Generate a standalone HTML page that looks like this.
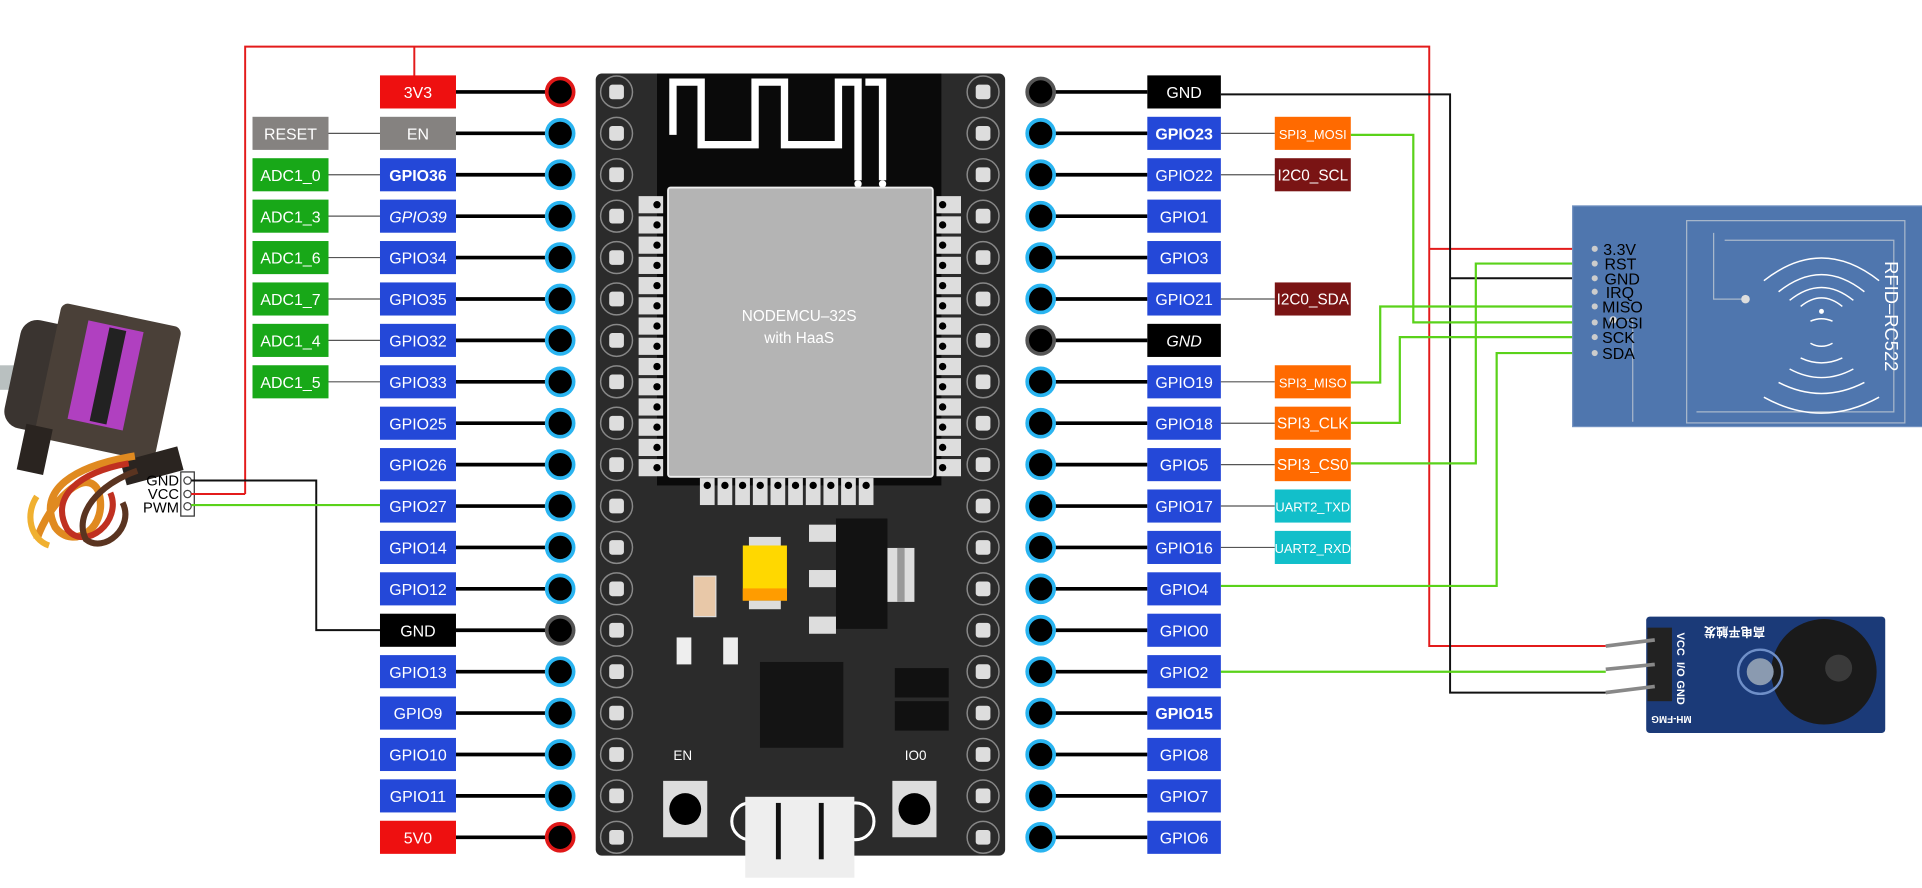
<!DOCTYPE html>
<html><head><meta charset="utf-8"><style>
html,body{margin:0;padding:0;background:#fff;width:1922px;height:888px;overflow:hidden}
svg{display:block}
text{font-family:"Liberation Sans","Noto Sans CJK SC",sans-serif}
</style></head><body>
<svg id="s" width="1922" height="888" viewBox="0 0 1568 724.4" preserveAspectRatio="none" xmlns="http://www.w3.org/2000/svg">
<!-- servo -->
<g>
<rect x="0" y="298" width="14" height="20" fill="#b9c0c0"/>
<g transform="rotate(12 70 310)">
<rect x="10" y="270" width="55" height="90" rx="14" fill="#3a3430"/>
<rect x="38" y="252" width="100" height="112" rx="6" fill="#4a4038"/>
<rect x="62" y="262" width="46" height="82" fill="#b040c0"/>
<rect x="80" y="264" width="14" height="78" fill="#222"/>
<rect x="30" y="355" width="22" height="38" fill="#2a2420"/>
</g>
<rect x="100" y="370" width="48" height="20" fill="#2a2420" transform="rotate(-15 124 380)"/>
<path d="M110 372 C60 380 30 400 45 430 C60 450 90 430 80 400 C70 380 40 410 30 440" stroke="#e08a20" stroke-width="6" fill="none"/>
<path d="M105 378 C65 385 40 405 55 432 C70 450 100 425 90 402" stroke="#c03020" stroke-width="5" fill="none"/>
<path d="M112 384 C80 395 60 420 70 440 C85 452 110 430 100 410" stroke="#5a3420" stroke-width="5" fill="none"/>
<path d="M30 405 C20 420 25 440 40 445" stroke="#f0b030" stroke-width="5" fill="none"/>
</g>
<g font-size="12" fill="#000">
<text x="146" y="396" text-anchor="end">GND</text>
<text x="146" y="407" text-anchor="end">VCC</text>
<text x="146" y="418" text-anchor="end">PWM</text>
</g>
<rect x="147.5" y="385" width="11" height="36" fill="#fff" stroke="#333" stroke-width="1"/>
<circle cx="153" cy="392" r="3" fill="none" stroke="#444"/>
<circle cx="153" cy="403" r="3" fill="none" stroke="#444"/>
<circle cx="153" cy="413" r="3" fill="none" stroke="#444"/>

<!-- wires -->
<g fill="none" stroke-width="1.6">
<path d="M338 62 V38 M200 403 V38 H1166 V527 H1310 M1166 203 H1300 M156 403 H200" stroke="#e31b1b"/>
<path d="M996 77 H1183 V565 H1310 M1183 227 H1300" stroke="#111"/>
<path d="M156 392 H258 V514 H310" stroke="#111"/>
<g stroke="#5ad21a" stroke-width="1.8">
<path d="M156 412 H310"/>
<path d="M1102 110 H1153 V263 H1300"/>
<path d="M1102 312 H1126 V250 H1300"/>
<path d="M1102 345 H1142 V275 H1300"/>
<path d="M1102 378 H1204 V215 H1300"/>
<path d="M996 478 H1221 V288 H1300"/>
<path d="M996 548 H1310"/>
</g>
</g>

<!-- board -->
<rect x="486" y="60" width="334" height="638" rx="5" fill="#2b2b2b"/>
<rect x="536" y="60" width="232" height="336" fill="#0a0a0a"/>
<path d="M549 110 V67 H572 V118 H616 V67 H640 V118 H684 V67 H700 V147 M706 67 H720 V147" stroke="#fff" stroke-width="6" fill="none"/>
<circle cx="700" cy="150" r="3" fill="#fff"/><circle cx="720" cy="150" r="3" fill="#fff"/>
<rect x="545" y="153" width="216" height="236" rx="2" fill="#b4b4b4" stroke="#eee" stroke-width="1.5"/>
<text x="652" y="262" text-anchor="middle" fill="#fff" font-size="12.5">NODEMCU‒32S</text>
<text x="652" y="280" text-anchor="middle" fill="#fff" font-size="12.5">with HaaS</text>
<g id="board"></g>
<!-- lower components -->
<rect x="606" y="445" width="36" height="45" fill="#ffd800"/><rect x="606" y="480" width="36" height="10" fill="#ff9c00"/>
<rect x="611" y="438" width="26" height="7" fill="#ddd"/><rect x="611" y="490" width="26" height="7" fill="#ddd"/>
<rect x="682" y="423" width="42" height="90" fill="#121212"/>
<rect x="724" y="447" width="22" height="44" fill="#ddd"/><rect x="732" y="447" width="6" height="44" fill="#999"/>
<rect x="660" y="428" width="22" height="14" fill="#ddd"/><rect x="660" y="465" width="22" height="14" fill="#ddd"/><rect x="660" y="503" width="22" height="14" fill="#ddd"/>
<rect x="566" y="470" width="18" height="33" fill="#e8c8a8" stroke="#ddd"/>
<rect x="620" y="540" width="68" height="70" fill="#141414"/>
<rect x="730" y="545" width="44" height="24" fill="#111"/><rect x="730" y="572" width="44" height="24" fill="#111"/>
<rect x="552" y="520" width="12" height="22" fill="#eee"/><rect x="590" y="520" width="12" height="22" fill="#eee"/>
<text x="557" y="620" text-anchor="middle" fill="#fff" font-size="11">EN</text>
<text x="747" y="620" text-anchor="middle" fill="#fff" font-size="11">IO0</text>
<rect x="541" y="637" width="36" height="46" fill="#ddd"/><circle cx="559" cy="660" r="13" fill="#000"/>
<rect x="728" y="637" width="36" height="46" fill="#ddd"/><circle cx="746" cy="660" r="13" fill="#000"/>
<circle cx="612" cy="670" r="15" fill="none" stroke="#fff" stroke-width="2.5"/><circle cx="698" cy="670" r="15" fill="none" stroke="#fff" stroke-width="2.5"/>
<rect x="608" y="650" width="89" height="66" fill="#eee"/>
<rect x="633" y="655" width="4" height="46" fill="#111"/><rect x="668" y="655" width="4" height="46" fill="#111"/>

<g id="pins"></g>

<!-- RFID -->
<rect x="1283" y="168" width="290" height="180" fill="#4f76ae" stroke="#7090c0"/>
<rect x="1376" y="180" width="178" height="165" fill="none" stroke="#a9b8cc" stroke-width="1"/>
<path d="M1407 196 H1545 V336 H1384" fill="none" stroke="#a9b8cc"/>
<path d="M1325 261 H1332 V344" fill="none" stroke="#a9b8cc"/>
<circle cx="1316" cy="261" r="3" fill="#ddd"/>
<path d="M1398 190 V244 H1421" fill="none" stroke="#a9b8cc"/><circle cx="1424" cy="244" r="3.5" fill="#ddd"/>
<g fill="none" stroke="#fff" stroke-width="1.2">
<path d="M1439 229 Q1486 192 1533 229"/><path d="M1451 238 Q1486 210 1521 238"/><path d="M1460 245 Q1486 224 1512 245"/><path d="M1469 250 Q1486 236 1503 250"/><path d="M1477 280 Q1486 285 1495 280"/>
<path d="M1477 262 Q1486 258 1495 262"/>
<path d="M1469 292 Q1486 300 1503 292"/><path d="M1460 301 Q1486 315 1512 301"/><path d="M1451 312 Q1486 330 1521 312"/><path d="M1439 324 Q1486 350 1533 324"/>
</g>
<circle cx="1486" cy="254" r="2" fill="#fff"/>
<text x="1538" y="213" fill="#fff" font-size="15" transform="rotate(90 1538 213)">RFID–RC522</text>
<g font-size="13" fill="#000">
<text x="1308" y="208">3.3V</text><text x="1309" y="220">RST</text><text x="1309" y="232">GND</text><text x="1310" y="243">IRQ</text>
<text x="1307" y="255">MISO</text><text x="1307" y="268">MOSI</text><text x="1307" y="280">SCK</text><text x="1307" y="293">SDA</text>
</g>
<g fill="#ccc"><circle cx="1301" cy="203" r="2.5"/><circle cx="1301" cy="215" r="2.5"/><circle cx="1301" cy="227" r="2.5"/><circle cx="1301" cy="238" r="2.5"/><circle cx="1301" cy="250" r="2.5"/><circle cx="1301" cy="263" r="2.5"/><circle cx="1301" cy="275" r="2.5"/><circle cx="1301" cy="288" r="2.5"/></g>

<!-- buzzer -->
<rect x="1343" y="503" width="195" height="95" rx="3" fill="#1b3a78"/>
<circle cx="1488" cy="548" r="43" fill="#1a1a1a"/><circle cx="1500" cy="545" r="11" fill="#3a3a3a"/>
<circle cx="1436" cy="548" r="18" fill="none" stroke="#6f8fc8" stroke-width="2"/><circle cx="1436" cy="548" r="11" fill="#8a9ab0"/>
<rect x="1344" y="512" width="20" height="60" fill="#222"/>
<path d="M1310 527 L1350 522 M1310 546 L1350 542 M1310 565 L1350 560" stroke="#888" stroke-width="3"/>
<g fill="#fff" font-size="9" font-weight="bold">
<text x="1368" y="516" transform="rotate(90 1368 516)">VCC</text>
<text x="1368" y="540" transform="rotate(90 1368 540)">I/O</text>
<text x="1368" y="555" transform="rotate(90 1368 555)">GND</text>
<text x="1380" y="520" font-size="10" transform="rotate(180 1410 516)">高电平触发</text>
<text x="1350" y="590" font-size="8" transform="rotate(180 1365 587)">MH-FMG</text>
</g>
</svg>
<script>
var NS="http://www.w3.org/2000/svg";
function el(p,t,a,txt){var e=document.createElementNS(NS,t);for(var k in a)e.setAttribute(k,a[k]);if(txt!=null)e.textContent=txt;p.appendChild(e);return e;}
var pins=document.getElementById('pins'),board=document.getElementById('board');
var y0=75,st=33.78;
var L=["3V3","EN","GPIO36","GPIO39","GPIO34","GPIO35","GPIO32","GPIO33","GPIO25","GPIO26","GPIO27","GPIO14","GPIO12","GND","GPIO13","GPIO9","GPIO10","GPIO11","5V0"];
var R=["GND","GPIO23","GPIO22","GPIO1","GPIO3","GPIO21","GND","GPIO19","GPIO18","GPIO5","GPIO17","GPIO16","GPIO4","GPIO0","GPIO2","GPIO15","GPIO8","GPIO7","GPIO6"];
var ADC={2:"ADC1_0",3:"ADC1_3",4:"ADC1_6",5:"ADC1_7",6:"ADC1_4",7:"ADC1_5"};
var FN={1:["SPI3_MOSI","#ff6a00"],2:["I2C0_SCL","#7a1414"],5:["I2C0_SDA","#7a1414"],7:["SPI3_MISO","#ff6a00"],8:["SPI3_CLK","#ff6a00"],9:["SPI3_CS0","#ff6a00"],10:["UART2_TXD","#12bfca"],11:["UART2_RXD","#12bfca"]};
function col(n){return n=="GND"?"#000":(n=="3V3"||n=="5V0")?"#ee1010":n=="EN"?"#858280":"#2448d8";}
function ring(n){return n=="GND"?"#555":(n=="3V3"||n=="5V0")?"#e01818":"#2ab4f0";}
for(var i=0;i<19;i++){
 var y=y0+i*st;
 [503,802].forEach(function(x){el(board,'circle',{cx:x,cy:y,r:13,fill:'none',stroke:'#888','stroke-width':1.2});el(board,'rect',{x:x-6,y:y-6,width:12,height:12,rx:2.5,fill:'#ddd'});});
 if(ADC[i]){el(pins,'line',{x1:268,y1:y,x2:310,y2:y,stroke:'#555','stroke-width':1});el(pins,'rect',{x:206,y:y-13.5,width:62,height:27,fill:'#18a818'});el(pins,'text',{x:237,y:y+5,'text-anchor':'middle',fill:'#fff','font-size':13},ADC[i]);}
 if(i==1){el(pins,'line',{x1:268,y1:y,x2:310,y2:y,stroke:'#555','stroke-width':1});el(pins,'rect',{x:206,y:y-13.5,width:62,height:27,fill:'#858280'});el(pins,'text',{x:237,y:y+5,'text-anchor':'middle',fill:'#fff','font-size':13},"RESET");}
 el(pins,'line',{x1:372,y1:y,x2:450,y2:y,stroke:'#000','stroke-width':3});
 el(pins,'rect',{x:310,y:y-13.5,width:62,height:27,fill:col(L[i])});
 var a={x:341,y:y+5,'text-anchor':'middle',fill:'#fff','font-size':13};if(i==3)a['font-style']='italic';if(i==2)a['font-weight']='bold';
 el(pins,'text',a,L[i]);
 el(pins,'circle',{cx:457,cy:y,r:11,fill:'#000',stroke:ring(L[i]),'stroke-width':3});
 el(pins,'line',{x1:855,y1:y,x2:936,y2:y,stroke:'#000','stroke-width':3});
 el(pins,'circle',{cx:849,cy:y,r:11,fill:'#000',stroke:ring(R[i]),'stroke-width':3});
 el(pins,'rect',{x:936,y:y-13.5,width:60,height:27,fill:col(R[i])});
 var b={x:966,y:y+5,'text-anchor':'middle',fill:'#fff','font-size':13};if(i==6)b['font-style']='italic';if(i==1||i==15)b['font-weight']='bold';
 el(pins,'text',b,R[i]);
 if(FN[i]){el(pins,'line',{x1:996,y1:y,x2:1040,y2:y,stroke:'#555','stroke-width':1});el(pins,'rect',{x:1040,y:y-13.5,width:62,height:27,fill:FN[i][1]});el(pins,'text',{x:1071,y:y+4.5,'text-anchor':'middle',fill:'#fff','font-size':FN[i][0].length>8?10.5:12.5},FN[i][0]);}
}
for(var j=0;j<14;j++){var yy=160+j*16.5;
 el(board,'rect',{x:521,y:yy,width:20,height:14,fill:'#ddd'});el(board,'circle',{cx:536,cy:yy+7,r:3,fill:'#000'});
 el(board,'rect',{x:764,y:yy,width:20,height:14,fill:'#ddd'});el(board,'circle',{cx:769,cy:yy+7,r:3,fill:'#000'});}
for(var k=0;k<10;k++){var xx=571+k*14.4;el(board,'rect',{x:xx,y:390,width:12,height:22,fill:'#ddd'});el(board,'circle',{cx:xx+6,cy:396,r:3,fill:'#000'});}
</script>
</body></html>
